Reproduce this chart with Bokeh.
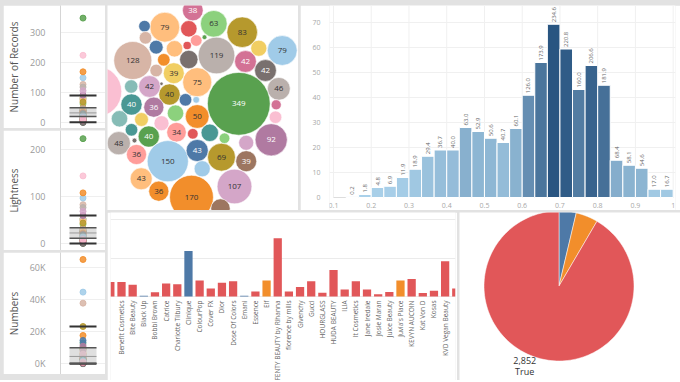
import numpy as np
from math import pi
from bokeh.plotting import figure
from bokeh.layouts import row, column
from bokeh.models import Range1d, FixedTicker, ColumnDataSource, Spacer
from bokeh.transform import linear_cmap, factor_cmap
from bokeh.embed import file_html
from bokeh.resources import INLINE
from bokeh.core.properties import value

FONT = "Open Sans"

# ---------------- brand level data (bubbles + dot plots) ----------------
brand_color = [
    "#d37295", "#8cd17d", "#b6992d", "#ffbe7d", "#a0cbe8", "#d7b5a6", "#bab0ac", "#d37295", "#79706e", "#bab0ac",
    "#59a14f", "#ffbe7d", "#f1ce63", "#d4a6c8", "#b6992d", "#499894", "#b07aa1", "#f28e2b", "#59a14f", "#ff9d9a",
    "#bab0ac", "#ff9d9a", "#a0cbe8", "#4e79a7", "#b6992d", "#9d7660", "#b07aa1", "#d4a6c8", "#f28e2b", "#ffbe7d",
    "#f28e2b", "#9d7660", "#fabfd2",
    "#4e79a7", "#d7b5a6", "#4e79a7", "#ffbe7d", "#e15759", "#ff9d9a", "#e15759", "#59a14f", "#79706e", "#f28e2b",
    "#d7b5a6", "#f1ce63", "#86bcb6", "#79706e", "#4e79a7", "#a0cbe8", "#8cd17d", "#86bcb6", "#f1ce63", "#fabfd2",
    "#499894", "#79706e", "#e15759", "#499894", "#8cd17d", "#d4a6c8", "#a0cbe8", "#d37295", "#fabfd2"]

records = [38, 63, 83, 79, 79, 128, 119, 42, 42, 46,
           349, 75, 39, 42, 40, 40, 36, 50, 40, 34,
           48, 36, 150, 43, 69, 39, 92, 107, 170, 43,
           36, 33, 225,
           12, 14, 17, 24, 24, 12, 6, 2, 30, 14,
           14, 23, 16, 1, 14, 4, 24, 24, 17, 20,
           14, 2, 10, 27, 10, 20, 23, 9, 14]

lightness = [24, 41, 53, 50, 51, 83, 77, 27, 27, 30,
             223, 48, 25, 27, 26, 26, 23, 32, 26, 22,
             31, 23, 97, 28, 44, 25, 60, 69, 108, 28,
             23, 21, 144,
             8, 9, 11, 15, 15, 8, 4, 1, 19, 9,
             9, 15, 10, 1, 9, 3, 15, 15, 11, 13,
             9, 1, 6, 17, 6, 13, 15, 6, 9]

numbers = [3200, 9800, 23300, 7000, 5200, 37900, 12000, 2600, 3900, 4500,
           9500, 4100, 2200, 3500, 6100, 13200, 3000, 17700, 2800, 1900,
           5500, 2400, 44800, 14600, 8800, 3300, 11000, 8000, 65200, 2900,
           1800, 2100, 6000,
           900, 1200, 1500, 2000, 1700, 800, 400, 100, 2300, 1100,
           1000, 1900, 1300, 50, 1200, 300, 2100, 1800, 1400, 1600,
           1000, 150, 700, 2500, 700, 1500, 1900, 600, 1100]

# packed-bubble layout (centre of each brand's bubble)
bubble_x = [192.3, 213.3, 241.7, 164.3, 281.7, 132.3, 216.0, 245.0, 265.0, 278.3,
            238.3, 196.7, 173.3, 149.0, 169.0, 131.0, 153.3, 196.7, 148.3, 176.0,
            118.3, 136.0, 167.3, 196.7, 221.0, 245.7, 270.7, 234.0, 191.0, 140.7,
            158.3, 220.0, 96.0,
            144.0, 145.0, 155.7, 174.0, 188.3, 195.7, 186.7, 204.0, 188.3, 163.3,
            155.7, 258.3, 130.7, 161.0, 185.0, 195.7, 175.0, 119.0, 141.0, 161.0,
            131.0, 134.0, 192.3, 209.3, 224.0, 245.7, 201.7, 275.7, 275.0]
bubble_y = [10.0, 23.3, 31.7, 26.7, 50.0, 60.0, 55.0, 61.0, 70.0, 88.3,
            103.3, 81.7, 72.7, 86.0, 94.0, 104.0, 106.7, 116.0, 136.0, 131.7,
            142.7, 154.0, 160.7, 150.0, 156.7, 160.7, 139.3, 186.0, 196.7, 178.3,
            190.7, 208.0, 91.0,
            25.7, 37.3, 46.7, 48.3, 28.3, 40.0, 45.0, 36.7, 59.0, 59.3,
            70.0, 47.7, 86.0, 83.3, 99.3, 99.3, 112.7, 118.3, 119.0, 122.7,
            129.3, 140.0, 133.3, 132.3, 137.7, 142.3, 168.3, 104.3, 116.7]

# box plot statistics: lower whisker, Q1, median, Q3, upper whisker
records_box = [2, 21, 33, 50, 91]
lightness_box = [0.5, 12, 23, 34, 60]
numbers_box = [0, 400, 4600, 10000, 23300]

# ---------------- histogram ----------------
hist_counts = [0.3, 1.2, 4.0, 4.5, 8.0, 11.3, 16.5, 19.0, 19.0, 28.0, 26.4, 23.7, 22.0,
               27.6, 40.9, 54.0, 69.3, 59.4, 43.2, 52.8, 44.9, 14.9, 12.9, 11.7, 3.3, 3.3]
hist_sums = [0.2, 1.8, 4.8, 6.9, 11.9, 18.9, 29.4, 36.7, 40.0, 63.0, 52.9, 50.6, 40.7,
             60.1, 126.0, 173.9, 234.6, 220.8, 160.0, 206.6, 181.9, 68.4, 58.1, 54.6, 17.0, 16.7]
hist_bin_start = 4 / 30
hist_bin_width = 1 / 30
hist_xticks = [0.1, 0.2, 0.3, 0.4, 0.5, 0.6, 0.7, 0.8, 0.9, 1.0]
hist_yticks = [0, 10, 20, 30, 40, 50, 60, 70]

# ---------------- bar chart ----------------
bar_brands = ["Becca", "Benefit Cosmetics", "Bite Beauty", "Black Up", "Bobbi Brown", "Catrice",
              "Charlotte Tilbury", "Clinique", "ColourPop", "Cover FX", "Dior", "Dose Of Colors",
              "Emani", "Essence", "Elf", "FENTY BEAUTY by Rihanna", "florence by mills", "Givenchy",
              "Gucci", "HOURGLASS", "HUDA BEAUTY", "ILIA", "It Cosmetics", "Jane Iredale",
              "Josie Maran", "Juice Beauty", "Juvia's Place", "KEVYN AUCOIN", "Kat Von D", "Kosas",
              "KVD Vegan Beauty", "Lancôme"]
bar_records = [38, 38, 31, 2, 11, 34, 32, 119, 42, 21, 36, 40, 2, 13, 42, 152, 13, 25,
               40, 10, 69, 18, 40, 18, 6, 12, 42, 46, 9, 15, 92, 21]
bar_group = ["True", "True", "True", "False", "True", "True", "True", "False", "True", "True",
             "True", "True", "False", "True", "Null", "True", "True", "True", "True", "True",
             "True", "True", "True", "True", "True", "True", "Null", "True", "True", "True",
             "True", "True"]
bar_grid = [0, 100, 200]

# ---------------- pie ----------------
pie_groups = ["False", "Null", "True"]
pie_values = [115, 148, 2852]

GROUP_COLORS = {"True": "#e15759", "False": "#4e79a7", "Null": "#f28e2b"}
GRAY_BG = "#e2e2e2"


def base_fig(**kw):
    p = figure(toolbar_location=None, output_backend="svg", **kw)
    p.outline_line_color = None
    p.background_fill_color = "white"
    p.border_fill_color = "white"
    return p


# ---------------- dot + box panels ----------------
def dot_panel(vals, box, title, yr, ticks, overrides, h):
    p = base_fig(width=102, height=h, x_range=Range1d(0, 1), y_range=Range1d(*yr),
                 min_border_left=56, min_border_right=0, min_border_top=0, min_border_bottom=0)
    p.xaxis.visible = False
    p.xgrid.visible = False
    p.ygrid.grid_line_color = "#efefef"
    ax = p.yaxis[0]
    ax.ticker = FixedTicker(ticks=ticks)
    if overrides:
        ax.major_label_overrides = overrides
    ax.axis_label = title
    ax.axis_label_text_font = FONT
    ax.axis_label_text_font_size = "10px"
    ax.axis_label_text_font_style = "normal"
    ax.axis_label_text_color = "#555555"
    ax.axis_label_standoff = 6
    ax.major_label_text_font = FONT
    ax.major_label_text_font_size = "9px"
    ax.major_label_text_color = "#9a9a9a"
    ax.major_label_standoff = 9
    ax.major_tick_line_color = None
    ax.minor_tick_line_color = None
    ax.axis_line_color = "#d5d5d5"
    src = ColumnDataSource(dict(x=[0.5] * len(vals), y=vals, c=brand_color))
    p.scatter("x", "y", source=src, size=6, fill_color="c", line_color="c", fill_alpha=0.85, line_alpha=0.9)
    lo, q1, med, q3, hi = box
    p.quad(left=0.2, right=0.8, bottom=q1, top=q3, fill_color="#c4c4c4", fill_alpha=0.55, line_color=None)
    p.segment(x0=[0.2] * 3, x1=[0.8] * 3, y0=[lo, hi, med], y1=[lo, hi, med],
              line_color=["#333333", "#333333", "#9a9a9a"], line_width=[2, 2, 1])
    p.segment(x0=[0.2] * 2, x1=[0.8] * 2, y0=[q1, q3], y1=[q1, q3], line_color="#555555", line_width=1.5)
    return p


p1 = dot_panel(records, records_box, "Number of Records", (-19, 391), [0, 100, 200, 300], None, 123)
p2 = dot_panel(lightness, lightness_box, "Lightness", (-14.2, 240.3), [0, 100, 200], None, 120)
p3 = dot_panel(numbers, numbers_box, "Numbers", (-6688, 69563), [0, 20000, 40000, 60000],
               {0: "0K", 20000: "20K", 40000: "40K", 60000: "60K"}, 122)

# ---------------- packed bubbles ----------------
BX0, BX1, BY0, BY1 = 107, 298, 210, 5


def text_col(hx):
    r, g, b = int(hx[1:3], 16), int(hx[3:5], 16), int(hx[5:7], 16)
    return "white" if 0.299 * r + 0.587 * g + 0.114 * b < 148.5 else "#333333"


def show_label(v, x, y):
    return v >= 33 and BX0 + 6 < x < BX1 - 6 and BY1 + 4 < y < BY0 - 6


bsrc = ColumnDataSource(dict(
    x=bubble_x, y=bubble_y, r=[1.68 * np.sqrt(v) for v in records], c=brand_color,
    t=[str(v) if show_label(v, x, y) else "" for v, x, y in zip(records, bubble_x, bubble_y)],
    tc=[text_col(c) for c in brand_color]))
pb = base_fig(width=191, height=205, x_range=Range1d(BX0, BX1), y_range=Range1d(BY0, BY1), min_border=0)
pb.axis.visible = False
pb.grid.visible = False
pb.circle("x", "y", radius="r", source=bsrc, fill_color="c", line_color="white", line_width=0.6)
pb.text("x", "y", text="t", source=bsrc, text_color="tc", text_align="center", text_baseline="middle",
        text_font=value(FONT), text_font_size="8px")

# ---------------- histogram ----------------
HY0, HY1 = -5.2, 76.8
left = hist_bin_start + hist_bin_width * np.arange(len(hist_counts))
hsrc = ColumnDataSource(dict(l=left, r=left + hist_bin_width, m=left + hist_bin_width / 2,
                             top=hist_counts, s=hist_sums, lab=[f"{v:.1f}" for v in hist_sums]))
blues = ["#%02x%02x%02x" % tuple(int(a + (b - a) * t) for a, b in zip((0xab, 0xd2, 0xeb), (0x29, 0x55, 0x81)))
         for t in np.linspace(0, 1, 256)]
ph = base_fig(width=380, height=205, x_range=Range1d(0.0894, 1.0062), y_range=Range1d(HY0, HY1),
              min_border_left=29, min_border_right=5, min_border_top=0, min_border_bottom=0)
ph.xaxis.visible = False
ph.xgrid.visible = False
ph.segment(x0=hist_xticks, x1=hist_xticks, y0=0, y1=HY1, line_color="#f0f0f0", line_width=1)
ph.segment(x0=hist_xticks[0], x1=hist_xticks[-1], y0=0, y1=0, line_color="#dddddd", line_width=1)
ph.quad(left="l", right="r", bottom=0, top="top", source=hsrc,
        fill_color=linear_cmap("s", blues, 0, max(hist_sums)), line_color="white", line_width=1)
ph.text("m", "top", text="lab", source=hsrc, angle=pi / 2, text_align="left", text_baseline="middle",
        y_offset=-2, text_font=value(FONT), text_font_size="6px", text_color="#666666")
ph.text(x=hist_xticks, y=[0] * len(hist_xticks), text=[f"{t:g}" for t in hist_xticks], y_offset=8,
        text_align="center", text_baseline="middle", text_font=value(FONT), text_font_size="7px",
        text_color="#a8a8a8")
ya = ph.yaxis[0]
ya.ticker = FixedTicker(ticks=hist_yticks)
ya.major_label_text_font = FONT
ya.major_label_text_font_size = "7px"
ya.major_label_text_color = "#a8a8a8"
ya.major_tick_line_color = None
ya.minor_tick_line_color = None
ya.major_label_standoff = 3
ya.axis_line_color = None
ph.ygrid.ticker = FixedTicker(ticks=hist_yticks[1:])
ph.ygrid.grid_line_color = "#f0f0f0"

# ---------------- bar chart ----------------
XB0, XB1 = -0.986, 29.93
idx = np.arange(len(bar_brands)) - 1
barsrc = ColumnDataSource(dict(
    x=idx, top=bar_records, g=bar_group,
    lab=[b if XB0 + 0.5 < i < XB1 - 0.5 else "" for i, b in zip(idx, bar_brands)]))
pbar = base_fig(width=350, height=168, x_range=Range1d(XB0, XB1), y_range=Range1d(-219.3, 219.3),
                min_border_left=3, min_border_right=2, min_border_top=0, min_border_bottom=0)
pbar.axis.visible = False
pbar.xgrid.visible = False
pbar.ygrid.ticker = FixedTicker(ticks=bar_grid)
pbar.ygrid.grid_line_color = "#ebebeb"
pbar.vbar(x="x", top="top", width=0.74, source=barsrc,
          fill_color=factor_cmap("g", [GROUP_COLORS[k] for k in pie_groups], pie_groups), line_color=None)
pbar.text("x", 0, text="lab", source=barsrc, angle=pi / 2, text_align="right", text_baseline="middle",
          y_offset=4, text_font=value(FONT), text_font_size="6.5px", text_color="#666666")

# ---------------- pie ----------------
R = 75
frac = np.array(pie_values) / sum(pie_values)
cum = np.concatenate([[0], np.cumsum(frac)])
start = pi / 2 - 2 * pi * cum[:-1]
end = pi / 2 - 2 * pi * cum[1:]
xs, ys = [], []
for a0, a1 in zip(start, end):
    t = np.linspace(a0, a1, 160)
    xs.append(np.concatenate([[0], R * np.cos(t)]))
    ys.append(np.concatenate([[0], R * np.sin(t)]))
pp = base_fig(width=221, height=168, x_range=Range1d(-99.5, 121.5), y_range=Range1d(-94.5, 73.5),
              min_border=0)
pp.axis.visible = False
pp.grid.visible = False
pp.patches(xs, ys, fill_color=[GROUP_COLORS[g] for g in pie_groups], line_color="white", line_width=0.5)
mid = (start[2] + end[2]) / 2
lx, ly = (R + 10) * np.cos(mid), (R + 10) * np.sin(mid)
pp.text(x=[lx, lx], y=[ly, ly], text=[f"{pie_values[2]:,}", pie_groups[2]], x_offset=-12,
        y_offset=[-8, 3], text_align="center", text_baseline="middle", text_font=value(FONT),
        text_font_size="9px", text_color="#333333")

# ---------------- layout ----------------
left_col = column(p1, p2, p3, spacing=2)
right_part = column(row(pb, ph, spacing=2), row(pbar, pp, spacing=2), spacing=2)
root = column(Spacer(width=680, height=3),
              row(Spacer(width=1, height=10), left_col, right_part, spacing=2),
              spacing=2, styles={"background-color": GRAY_BG})

open("out.html", "w").write(file_html(root, INLINE))
